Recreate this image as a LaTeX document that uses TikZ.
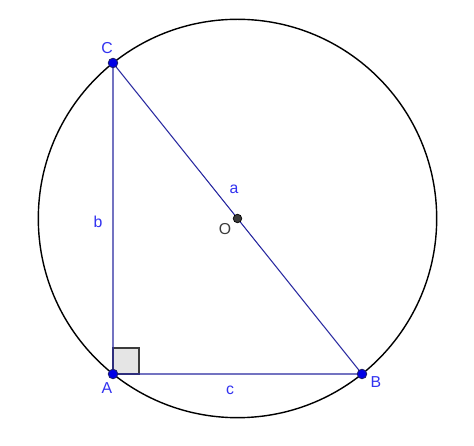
\documentclass[tikz,border=0pt]{standalone}
\usepackage{fontspec}
\setmainfont{Liberation Sans}
\definecolor{seg}{RGB}{40,40,160}
\definecolor{pt}{RGB}{0,0,230}
\definecolor{lab}{RGB}{50,50,240}
\definecolor{dk}{RGB}{60,60,60}
\begin{document}
\begin{tikzpicture}[x=0.02cm,y=0.02cm,>=stealth,
  lbl/.style={text=lab,font=\fontsize{9}{9}\selectfont,inner sep=0pt},
  dot/.style={circle,fill=pt,draw=seg!70!black,line width=.5pt,inner sep=0pt,minimum size=.19cm}]
\fill[white] (0,0) rectangle (474,446);
\useasboundingbox (0,0) rectangle (474,446);
\coordinate (A) at (113,72);
\coordinate (B) at (362,72);
\coordinate (C) at (113,383);
\coordinate (O) at (237.5,227.5);
\draw[line width=.8pt] (O) circle (199.2);
\draw[dk,fill=gray!20,line width=.6pt] (A) rectangle ++(26,26);
\draw[seg,line width=.6pt] (A)--(B)--(C)--cycle;
\node[lbl] (la) at (234,257) {a};
\node[lbl] (lb) at (98,224) {b};
\node[lbl] (lc) at (230,56) {c};
\node[circle,fill=dk,draw=black,inner sep=0pt,minimum size=.17cm] (o) at (O) {};
\node[lbl,text=dk] (lo) at (225,217) {O};
\node[dot] (a) at (A) {};
\node[dot] (b) at (B) {};
\node[dot] (c) at (C) {};
\node[lbl] (lA) at (107,58) {A};
\node[lbl] (lB) at (376,64) {B};
\node[lbl] (lC) at (107,398) {C};
\end{tikzpicture}
\end{document}
